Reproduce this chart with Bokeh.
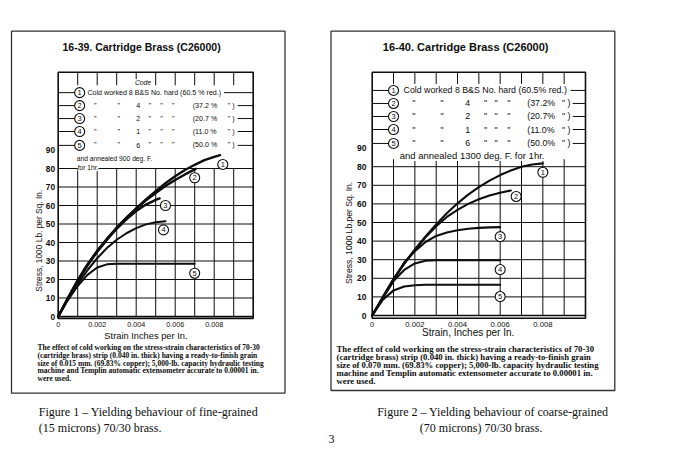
import numpy as np
from bokeh.plotting import figure
from bokeh.models import Range1d
from bokeh.core.properties import value
from bokeh.embed import file_html
from bokeh.resources import INLINE

# ---------------- axis values ----------------
x_tick_values = [0.0, 0.002, 0.004, 0.006, 0.008]
x_tick_labels = ["0", "0.002", "0.004", "0.006", "0.008"]
y_tick_values = [0, 10, 20, 30, 40, 50, 60, 70, 80, 90]
y_tick_labels = ["0", "10", "20", "30", "40", "50", "60", "70", "80", "90"]
x_grid_values = [0.001, 0.002, 0.003, 0.004, 0.005, 0.006, 0.007, 0.008, 0.009]
y_grid_values = [10, 20, 30, 40, 50, 60, 70, 80]

# ---------------- legend (code) ----------------
code_numbers = ["1", "2", "3", "4", "5"]
bs_numbers = ["8", "4", "2", "1", "6"]
fine_reductions = ["(60.5 %", "(37.2 %", "(20.7 %", "(11.0 %", "(50.0 %"]
coarse_reductions = ["(60.5%", "(37.2%", "(20.7%", "(11.0%", "(50.0%"]

# ---------------- fine grained, annealed 900 F ----------------
fine_strain_1 = [0, 0.0005, 0.001, 0.0015, 0.002, 0.0025, 0.003, 0.0035, 0.004, 0.0045, 0.005, 0.0055, 0.006, 0.0065, 0.007, 0.0075, 0.008, 0.0083]
fine_stress_1 = [0, 10, 19.5, 28, 35.5, 42, 48, 53.5, 58.5, 63.3, 67.8, 72, 75.8, 79.2, 82, 84.5, 86.3, 87.2]
fine_strain_2 = [0, 0.0005, 0.001, 0.0015, 0.002, 0.0025, 0.003, 0.0035, 0.004, 0.0045, 0.005, 0.0055, 0.006, 0.0065, 0.00705]
fine_stress_2 = [0, 10, 19.5, 28, 35.3, 41.8, 47.8, 53.2, 58.2, 62.8, 66.8, 70.5, 73.8, 76.8, 79.8]
fine_strain_3 = [0, 0.0005, 0.001, 0.0015, 0.002, 0.0025, 0.003, 0.0035, 0.004, 0.0045, 0.005, 0.0052]
fine_stress_3 = [0, 9.8, 19, 27.5, 35, 41.5, 47.5, 52.5, 57, 60.5, 63, 63.8]
fine_strain_4 = [0, 0.0005, 0.001, 0.0015, 0.002, 0.0025, 0.003, 0.0035, 0.004, 0.0045, 0.005, 0.0055]
fine_stress_4 = [0, 9, 17.5, 25, 31.5, 37, 41.5, 45, 47.8, 49.8, 51, 51.5]
fine_strain_5 = [0, 0.0005, 0.001, 0.0015, 0.002, 0.0025, 0.003, 0.007]
fine_stress_5 = [0, 9, 16.5, 22.5, 26.5, 28.2, 28.5, 28.5]
fine_label_strain = [0.00844, 0.007, 0.0055, 0.0054, 0.007]
fine_label_stress = [82.2, 75, 60, 46.8, 23.4]

# ---------------- coarse grained, annealed 1300 F ----------------
coarse_strain_1 = [0, 0.0005, 0.001, 0.0015, 0.002, 0.0025, 0.003, 0.0035, 0.004, 0.0045, 0.005, 0.0055, 0.006, 0.0065, 0.007, 0.0075, 0.008]
coarse_stress_1 = [0, 10, 19.7, 28, 35.5, 42.5, 49, 55, 60.3, 65, 69, 72.5, 75.5, 78, 80, 81.2, 81.8]
coarse_strain_2 = [0, 0.0005, 0.001, 0.0015, 0.002, 0.0025, 0.003, 0.0035, 0.004, 0.0045, 0.005, 0.0055, 0.006, 0.0065]
coarse_stress_2 = [0, 10, 19.5, 27.8, 35.2, 42, 48, 53, 56.8, 60, 62.5, 64.5, 66, 67.2]
coarse_strain_3 = [0, 0.0005, 0.001, 0.0015, 0.002, 0.0025, 0.003, 0.0035, 0.004, 0.0045, 0.005, 0.0055, 0.006]
coarse_stress_3 = [0, 9.5, 19, 28.5, 34.5, 39.5, 42.8, 44.6, 45.8, 46.6, 47.1, 47.4, 47.5]
coarse_strain_4 = [0, 0.0005, 0.001, 0.0015, 0.002, 0.0025, 0.003, 0.006]
coarse_stress_4 = [0, 9.5, 18.5, 24.5, 28, 29.4, 29.7, 29.7]
coarse_strain_5 = [0, 0.0005, 0.001, 0.0015, 0.002, 0.0025, 0.006]
coarse_stress_5 = [0, 8.5, 13.5, 15.6, 16.3, 16.5, 16.5]
coarse_label_strain = [0.008, 0.00675, 0.006, 0.006, 0.006]
coarse_label_stress = [77, 64, 42.4, 24.7, 10.2]

# ---------------- texts ----------------
fine_title = "16-39.  Cartridge Brass (C26000)"
coarse_title = "16-40.  Cartridge Brass (C26000)"
y_title = "Stress, 1000 Lb. per Sq. In."
coarse_y_title = "Stress, 1000 Lb.per Sq. In."
fine_x_title = "Strain Inches per In."
coarse_x_title = "Strain, Inches per In."
fine_heat = ["and annealed 900 deg. F.", "for 1hr."]
coarse_heat = ["and annealed 1300 deg. F. for 1hr."]
fine_caption = [
    "The effect of cold working on the stress-strain characteristics of 70-30",
    "(cartridge brass) strip (0.040 in. thick) having a ready-to-finish grain",
    "size of 0.015 mm. (69.83% copper); 5,000-lb. capacity hydraulic testing",
    "machine and Templin automatic extensometer accurate to 0.00001 in.",
    "were used.",
]
coarse_caption = [
    "The effect of cold working on the stress-strain characteristics of 70-30",
    "(cartridge brass) strip (0.040 in. thick) having a ready-to-finish grain",
    "size of 0.070 mm. (69.83% copper); 5,000-lb. capacity hydraulic testing",
    "machine and Templin automatic extensometer accurate to 0.00001 in.",
    "were used.",
]
fine_figure_caption = ["Figure 1 \u2013 Yielding behaviour of fine-grained", "(15 microns) 70/30 brass."]
coarse_figure_caption = ["Figure 2 \u2013 Yielding behaviour of coarse-grained", "(70 microns) 70/30 brass."]
page_number = "3"

# ---------------- page figure (page pixel coordinates) ----------------
W, H = 662, 445
p = figure(width=W, height=H, output_backend="svg", toolbar_location=None,
           x_range=Range1d(0, W), y_range=Range1d(H, 0),
           x_axis_type=None, y_axis_type=None, min_border=0)
p.outline_line_color = None
p.background_fill_color = "white"
p.border_fill_color = "white"

# chart placement on the page: origin pixel and pixels per unit
GEOM = {
    "fine": dict(x0=57.7, sx=19500.0, y0=316.0, sy=1.85),
    "coarse": dict(x0=371.7, sx=21330.0, y0=315.0, sy=1.86),
}
xr_map, yr_map = {}, {}
for k, g in GEOM.items():
    xr_map[k + "_x"] = Range1d((0 - g["x0"]) / g["sx"], (W - g["x0"]) / g["sx"])
    yr_map[k + "_y"] = Range1d((g["y0"] - H) / g["sy"], (g["y0"] - 0) / g["sy"])
p.extra_x_ranges = xr_map
p.extra_y_ranges = yr_map

INK = "#0d0d0d"
HAND = "Liberation Sans"


def txt(x, y, s, size, font=HAND, style="normal", align="left", baseline="middle",
        xr="default", yr="default", angle=0.0, bg=None):
    kw = {}
    if bg is not None:
        kw["background_fill_color"] = bg
    p.text(x=x, y=y, text=s, x_range_name=xr, y_range_name=yr,
           text_font=value(font), text_font_size=value(f"{size}px"),
           text_font_style=style, text_align=align, text_baseline=baseline,
           angle=angle, text_color=INK, **kw)


CFG = {
    "fine": dict(top=132.0, bottom=-1.0, vtop=80.0, tick_bottom=125.0,
                 circle_x=0.0011, row1_x=0.0015,
                 cols=[0.0019, 0.0031, 0.0041, 0.0047, 0.0053, 0.0059],
                 pct_x=0.0069, close_x=0.0087, trail=[0.0085, 0.0092, 0.0092, 0.0092, 0.0092],
                 lsize=7.1, heat_size=6.7, code_size=6.8, ytl_x=54.5, ytl_size=8.3,
                 xtl_y=324.0, xtl_size=7.2, ytitle_x=38.0, ytitle_y=41.0, ytitle_size=8.4,
                 xtitle=(0.0045, 335.5), xtitle_size=9.3, box=(11, 284.5, 30.7, 392.7),
                 title_xy=(142.5, 46.7), title_size=10.5,
                 cap_x=37.0, cap_y=[347.3, 355.0, 362.7, 370.3, 378.0], cap_size=7.5,
                 fig_cap=[(38.3, 411.7), (38.3, 427.0)], curve_w=[2.4, 2.4, 2.4, 2.0, 2.0]),
    "coarse": dict(top=130.8, bottom=-1.5, vtop=84.0, tick_bottom=124.5,
                   circle_x=0.001, row1_x=0.00147,
                   cols=[0.00195, 0.00328, 0.00448, 0.00532, 0.00581, 0.0064],
                   pct_x=0.00727, close_x=0.0089, trail=[0.0093, 0.0094, 0.0094, 0.0094, 0.0094],
                   lsize=8.8, heat_size=9.5, code_size=8.0, ytl_x=366.0, ytl_size=8.5,
                   xtl_y=324.0, xtl_size=7.7, ytitle_x=348.3, ytitle_y=44.4, ytitle_size=8.6,
                   xtitle=(0.0045, 332.0), xtitle_size=10.0, box=(330.5, 614.3, 30.7, 390.0),
                   title_xy=(466.7, 46.7), title_size=11.0,
                   cap_x=336.0, cap_y=[348.3, 356.3, 364.3, 372.3, 380.5], cap_size=8.7,
                   fig_cap=[(376.7, 411.7), (419.3, 427.0)], curve_w=[2.1, 2.1, 2.1, 2.1, 2.1]),
}

legend_rows = [121.0, 114.0, 107.0, 100.0, 92.5]


def draw_chart(key, curves, label_x, label_y, reductions, title, ytitle, xtitle, heat, caption, fig_caption):
    c = CFG[key]
    xr, yr = key + "_x", key + "_y"
    # panel box
    bl, br, bt, bb = c["box"]
    p.quad(left=[bl], right=[br], top=[bt], bottom=[bb], fill_color=None, line_color="#333333", line_width=1.3)
    # grid
    n = len(x_grid_values)
    p.segment(x0=x_grid_values, y0=[0] * n, x1=x_grid_values, y1=[c["vtop"]] * n,
              x_range_name=xr, y_range_name=yr, line_color=INK, line_width=1.0)
    p.segment(x0=x_grid_values, y0=[c["top"]] * n, x1=x_grid_values, y1=[c["tick_bottom"]] * n,
              x_range_name=xr, y_range_name=yr, line_color=INK, line_width=1.0)
    m = len(y_grid_values)
    p.segment(x0=[0] * m, y0=y_grid_values, x1=[0.010] * m, y1=y_grid_values,
              x_range_name=xr, y_range_name=yr, line_color=INK, line_width=1.0)
    # legend leader lines
    p.segment(x0=[0] * 5, y0=legend_rows, x1=[c["circle_x"]] * 5, y1=legend_rows,
              x_range_name=xr, y_range_name=yr, line_color=INK, line_width=1.0)
    p.segment(x0=c["trail"], y0=legend_rows, x1=[0.010] * 5, y1=legend_rows,
              x_range_name=xr, y_range_name=yr, line_color=INK, line_width=1.0)
    # frame
    p.quad(left=[0], right=[0.010], top=[c["top"]], bottom=[c["bottom"]], fill_color=None,
           line_color=INK, line_width=1.6, x_range_name=xr, y_range_name=yr)
    p.segment(x0=[0], y0=[0], x1=[0.010], y1=[0], x_range_name=xr, y_range_name=yr,
              line_color=INK, line_width=1.4)
    # curves
    for (sx, sy), lw in zip(curves, c["curve_w"]):
        p.line(x=sx, y=sy, x_range_name=xr, y_range_name=yr, line_color=INK,
               line_width=lw, line_join="round", line_cap="round")
    # heat treatment note
    if key == "fine":
        txt([0.00095], [85.3], [heat[0]], c["heat_size"], xr=xr, yr=yr)
        txt([0.001], [80.4], [heat[1]], c["heat_size"], xr=xr, yr=yr, bg="white")
        txt([0.00435], [126.3], ["Code"], c["code_size"], style="italic", align="center",
            xr=xr, yr=yr, bg="white")
    else:
        txt([0.00129], [86.0], [heat[0]], c["heat_size"], xr=xr, yr=yr, bg="white")
    # legend circles
    cx = [c["circle_x"]] * 5
    p.scatter(x=cx, y=legend_rows, size=10, marker="circle", fill_color="white",
              line_color=INK, line_width=1.1, x_range_name=xr, y_range_name=yr)
    txt(cx, legend_rows, code_numbers, 7.5, align="center", xr=xr, yr=yr)
    # legend rows
    row1 = f"Cold worked {bs_numbers[0]} B&S No. hard {reductions[0]} red.)"
    txt([c["row1_x"]], [legend_rows[0]], [row1], c["lsize"], xr=xr, yr=yr)
    xs, ys, ts = [], [], []
    for i in range(1, 5):
        tokens = ['"', '"', bs_numbers[i], '"', '"', '"']
        for col, t in zip(c["cols"], tokens):
            xs.append(col)
            ys.append(legend_rows[i])
            ts.append(t)
    txt(xs, ys, ts, c["lsize"], align="center", xr=xr, yr=yr)
    txt([c["pct_x"]] * 4, legend_rows[1:], reductions[1:], c["lsize"], xr=xr, yr=yr)
    txt([c["close_x"]] * 4, legend_rows[1:], ['" )'] * 4, c["lsize"], xr=xr, yr=yr)
    # curve labels
    p.scatter(x=label_x, y=label_y, size=10, marker="circle", fill_color="white",
              line_color=INK, line_width=1.1, x_range_name=xr, y_range_name=yr)
    txt(label_x, label_y, code_numbers, 7.5, align="center", xr=xr, yr=yr)
    # tick labels
    txt([c["ytl_x"]] * len(y_tick_values), y_tick_values, y_tick_labels, c["ytl_size"], style="bold",
        align="right", yr=yr)
    txt(x_tick_values, [c["xtl_y"]] * len(x_tick_values), x_tick_labels, c["xtl_size"],
        align="center", xr=xr)
    # axis titles
    txt([c["ytitle_x"]], [c["ytitle_y"]], [ytitle], c["ytitle_size"], align="center", yr=yr,
        angle=np.pi / 2)
    txt([c["xtitle"][0]], [c["xtitle"][1]], [xtitle], c["xtitle_size"], align="center", xr=xr)
    # panel title
    txt([c["title_xy"][0]], [c["title_xy"][1]], [title], c["title_size"], font="Liberation Sans",
        style="bold", align="center")
    # caption paragraph
    txt([c["cap_x"]] * len(caption), c["cap_y"], caption, c["cap_size"], font="Liberation Serif",
        style="bold")
    # figure caption
    txt([fc[0] for fc in c["fig_cap"]], [fc[1] for fc in c["fig_cap"]], fig_caption, 12,
        font="Liberation Serif")


draw_chart("fine",
           [(fine_strain_1, fine_stress_1), (fine_strain_2, fine_stress_2), (fine_strain_3, fine_stress_3),
            (fine_strain_4, fine_stress_4), (fine_strain_5, fine_stress_5)],
           fine_label_strain, fine_label_stress, fine_reductions, fine_title, y_title,
           fine_x_title, fine_heat, fine_caption, fine_figure_caption)
draw_chart("coarse",
           [(coarse_strain_1, coarse_stress_1), (coarse_strain_2, coarse_stress_2),
            (coarse_strain_3, coarse_stress_3), (coarse_strain_4, coarse_stress_4),
            (coarse_strain_5, coarse_stress_5)],
           coarse_label_strain, coarse_label_stress, coarse_reductions, coarse_title, coarse_y_title,
           coarse_x_title, coarse_heat, coarse_caption, coarse_figure_caption)

txt([331.0], [438.0], [page_number], 12, font="Liberation Serif", align="center")

open("out.html", "w").write(file_html(p, INLINE))
